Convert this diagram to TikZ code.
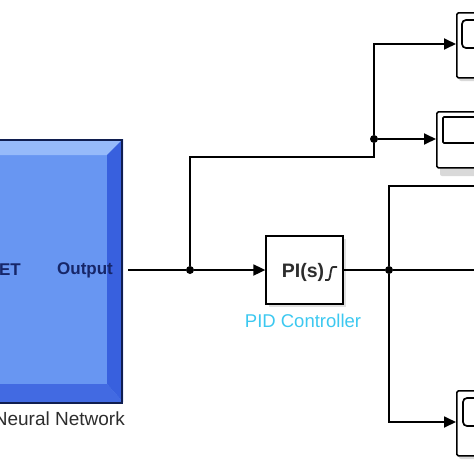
\documentclass[tikz,border=0pt]{standalone}
\usepackage{fontspec}
\setmainfont{Liberation Sans}
\usetikzlibrary{arrows.meta}
\definecolor{nnmain}{RGB}{104,150,242}
\definecolor{nntop}{RGB}{150,186,250}
\definecolor{nnright}{RGB}{56,96,222}
\definecolor{nnbottom}{RGB}{66,106,226}
\definecolor{nnedge}{RGB}{16,30,80}
\definecolor{navytext}{RGB}{22,38,105}
\definecolor{pidcyan}{RGB}{60,200,240}
\definecolor{darktext}{RGB}{45,45,45}
\tikzset{
  wire/.style={line width=1.8pt, black},
  sig/.style={wire, -{Triangle[length=12pt,width=11pt]}},
  dot/.style={circle, fill=black, inner sep=0pt, minimum size=8pt},
  blk/.style={draw=black, line width=1.7pt, fill=white, rounded corners=1.5pt, inner sep=0pt},
  inner/.style={draw=black, line width=1.7pt, fill=white, rounded corners=4pt},
  shade/.style={fill=black!15, rounded corners=2pt},
}
\begin{document}
\begin{tikzpicture}[x=1pt,y=-1pt]
\useasboundingbox (0,0) rectangle (474,474);
% ---------- Neural network block ----------
\fill[nnmain] (-20,139) rectangle (123,402);
\fill[nntop] (-20,139) -- (123,139) -- (107,155) -- (-20,155) -- cycle;
\fill[nnright] (123,139) -- (123,402) -- (107,384) -- (107,155) -- cycle;
\fill[nnbottom] (-20,402) -- (123,402) -- (107,384) -- (-20,384) -- cycle;
\node (nn) [draw=nnedge, line width=1.6pt, minimum width=143pt, minimum height=263pt,
  inner sep=0pt, anchor=north east] at (123,139) {};
\node (nnout) [font=\fontsize{17}{19}\selectfont\bfseries, text=navytext, inner sep=0pt] at (85,270) {Output};
\node (nnin) [font=\fontsize{17}{19}\selectfont\bfseries, text=navytext, inner sep=0pt, anchor=east] at (21,270) {ET};
\node (nnlabel) [font=\fontsize{19}{22}\selectfont, text=darktext, inner sep=0pt, anchor=east] at (125,419) {Neural Network};
% ---------- PID controller ----------
\fill[black!12] (269,239) rectangle (346,307);
\node (pid) [draw=black, line width=1.3pt, fill=white, minimum width=77pt, minimum height=68pt,
  inner sep=0pt] at (304.5,270) {};
\node (pidtext) [font=\fontsize{19.5}{21}\selectfont\bfseries, text=darktext, inner sep=0pt] at (303,272) {PI(s)};
\draw[line width=1.8pt, darktext] (325,280) -- (328,280) .. controls (331,280) and (330,267) .. (333,267) -- (337,267);
\node (pidlabel) [font=\fontsize{18.5}{20}\selectfont, text=pidcyan, inner sep=0pt] at (303,321) {PID Controller};
% ---------- Right-hand blocks ----------
\fill[shade] (459,16) rectangle (500,81);
\node (scope1) [blk, minimum width=60pt, minimum height=65pt, anchor=north west] at (456,12) {};
\draw[inner] (462,20) rectangle (500,48);
\fill[shade] (440,115) rectangle (500,176);
\node (disp) [blk, minimum width=70pt, minimum height=56pt, anchor=north west] at (436,111) {};
\draw[inner, rounded corners=1pt] (443,117) rectangle (500,143);
\fill[shade] (459,394) rectangle (500,459);
\node (scope2) [blk, minimum width=60pt, minimum height=65pt, anchor=north west] at (456,390) {};
\draw[inner] (463,398) rectangle (500,426);
% ---------- Junctions ----------
\node (j1) [dot] at (190,270) {};
\node (j2) [dot] at (374,139) {};
\node (j3) [dot] at (389,270) {};
\coordinate (c1) at (190,157);
\coordinate (c2) at (374,157);
\coordinate (o1) at (476,270);
\coordinate (o2) at (476,186);
% ---------- Wires ----------
\draw[wire] (nn.east |- nnout) ++(5,0) -- (j1);
\draw[sig] (j1) -- (pid.west);
\draw[wire] (j1) -- (c1) -- (c2) -- (j2);
\draw[sig] (j2) -- (disp.west |- j2);
\draw[sig] (j2) |- (scope1.west |- 0,44);
\draw[wire] (pid.east |- j3) -- (j3) -- (o1);
\draw[wire] (j3) |- (o2);
\draw[sig] (j3) |- (scope2.west |- 0,422);
\end{tikzpicture}
\end{document}
